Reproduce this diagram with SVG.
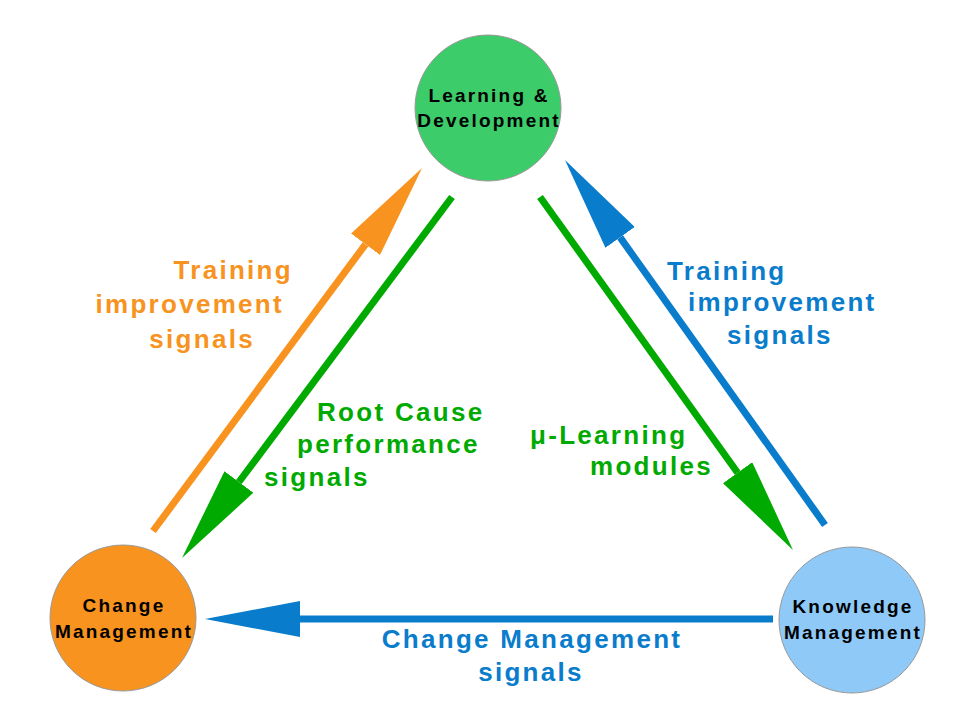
<svg xmlns="http://www.w3.org/2000/svg" width="974" height="723" viewBox="0 0 974 723">
<style>
.lbl{font-family:"Liberation Sans",Arial,sans-serif;font-weight:bold;font-size:26px;letter-spacing:2.3px}
.nt{font-family:"Liberation Sans",Arial,sans-serif;font-weight:bold;font-size:19px;fill:#000;text-anchor:middle;letter-spacing:2.2px}
.ln{stroke-width:7;fill:none}
</style>
<defs>
<marker id="ho" viewBox="0 0 95 36" refX="0" refY="18" markerWidth="95" markerHeight="36" markerUnits="userSpaceOnUse" orient="auto"><path d="M0,0 L95,18 L0,36 Z" fill="#f7931e"/></marker>
<marker id="hg" viewBox="0 0 95 36" refX="0" refY="18" markerWidth="95" markerHeight="36" markerUnits="userSpaceOnUse" orient="auto"><path d="M0,0 L95,18 L0,36 Z" fill="#00aa00"/></marker>
<marker id="hb" viewBox="0 0 95 36" refX="0" refY="18" markerWidth="95" markerHeight="36" markerUnits="userSpaceOnUse" orient="auto"><path d="M0,0 L95,18 L0,36 Z" fill="#0a7ccc"/></marker>
</defs>
<rect width="974" height="723" fill="#fff"/>
<g id="connectors">
<line class="ln" x1="153" y1="531" x2="365.5" y2="244.3" stroke="#f7931e" marker-end="url(#ho)"/>
<line class="ln" x1="452" y1="197" x2="238.9" y2="482" stroke="#00aa00" marker-end="url(#hg)"/>
<line class="ln" x1="540" y1="197" x2="737.6" y2="472.7" stroke="#00aa00" marker-end="url(#hg)"/>
<line class="ln" x1="825" y1="525" x2="620.1" y2="237.4" stroke="#0a7ccc" marker-end="url(#hb)"/>
<line class="ln" x1="773" y1="619" x2="300" y2="619" stroke="#0a7ccc" marker-end="url(#hb)"/>
<g class="lbl" fill="#f7931e" text-anchor="end">
<text x="293" y="279">Training</text>
<text x="284" y="313">improvement</text>
<text x="255" y="348">signals</text>
</g>
<g class="lbl" fill="#00aa00">
<text x="317" y="421">Root Cause</text>
<text x="297" y="453">performance</text>
<text x="264" y="486">signals</text>
<text x="530" y="444">μ-Learning</text>
<text x="590" y="475">modules</text>
</g>
<g class="lbl" fill="#0a7ccc">
<text x="667" y="280">Training</text>
<text x="688" y="311">improvement</text>
<text x="727" y="344">signals</text>
<text x="532" y="648" text-anchor="middle">Change Management</text>
<text x="531" y="681" text-anchor="middle">signals</text>
</g>
</g>
<g id="ld">
<circle cx="488" cy="108" r="73" fill="#3ccc6a" stroke="#999" stroke-width="1"/>
<text class="nt" x="489" y="102">Learning &amp;</text>
<text class="nt" x="489" y="127">Development</text>
</g>
<g id="cm">
<circle cx="123" cy="618" r="73" fill="#f7931e" stroke="#999" stroke-width="1"/>
<text class="nt" x="124" y="612">Change</text>
<text class="nt" x="124" y="638">Management</text>
</g>
<g id="km">
<circle cx="852" cy="620" r="73" fill="#8ec9f7" stroke="#999" stroke-width="1"/>
<text class="nt" x="853" y="613">Knowledge</text>
<text class="nt" x="853" y="639">Management</text>
</g>
</svg>
